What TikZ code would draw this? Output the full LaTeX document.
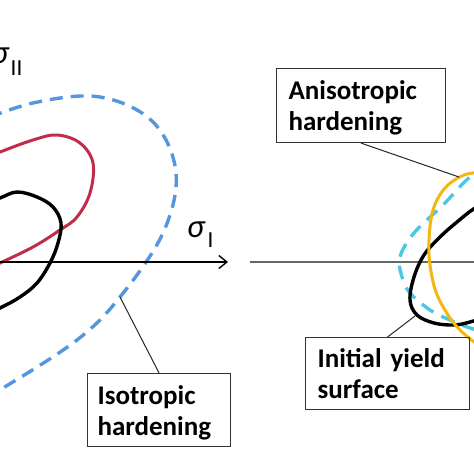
\documentclass[tikz,border=0pt]{standalone}
\usepackage{fontspec}
\setmainfont{Carlito}
\usetikzlibrary{arrows.meta}
\definecolor{redc}{RGB}{192,45,75}
\definecolor{bluec}{RGB}{85,150,225}
\definecolor{cyanc}{RGB}{75,200,230}
\definecolor{orangec}{RGB}{245,182,15}
\newcommand{\sigmaglyph}{{\fontsize{33}{33}\selectfont\itshape σ}}
\begin{document}
\begin{tikzpicture}[x=1pt,y=-1pt,
  labelbox/.style={draw=black!80, line width=1.1pt, rectangle, align=left,
    inner ysep=0pt, font=\fontsize{27}{31}\selectfont\bfseries, anchor=north west},
  leader/.style={line width=1pt, black!85},
  curveblack/.style={line width=3.4pt, black},
  curvered/.style={line width=3pt, redc},
  curveblue/.style={line width=3.4pt, bluec, dash pattern=on 13pt off 8pt},
  curvecyan/.style={line width=3.4pt, cyanc, dash pattern=on 14pt off 9pt},
  curveorange/.style={line width=3pt, orangec},
  symlabel/.style={inner sep=0pt, anchor=base west}]
\useasboundingbox (0,0) rectangle (474,474);
\begin{scope}
\clip (0,0) rectangle (474,474);
% left panel
\draw[curveblue] plot[smooth, tension=0.6] coordinates {(-30,125) (33,103) (100,97) (153,122) (176,173) (163,233) (120,297) (77,340) (3,388) (-30,405)};
\draw[curvered] plot[smooth, tension=0.6] coordinates {(-20,160) (0,152) (33,140) (57,135) (80,143) (93,163) (90,193) (77,217) (60,230) (33,247) (0,263) (-20,272)};
\draw[curveblack] plot[smooth, tension=0.6] coordinates {(-20,205) (0,198) (17,192) (37,197) (53,207) (61,223) (58,243) (50,263) (37,283) (20,297) (0,308) (-20,317)};
\coordinate (axL) at (-5,262);
\coordinate (axLend) at (228,262);
\draw[line width=1.4pt, -{Straight Barb[length=8pt,width=13pt]}] (axL) -- (axLend);
% right panel
\coordinate (axR) at (250,262);
\coordinate (axRend) at (480,262);
\draw[line width=1.8pt, black!60] (axR) -- (axRend);
\draw[curvecyan] plot[smooth, tension=0.6] coordinates {(490,168) (470,177) (443,205) (414,233) (400,257) (402,277) (410,293) (430,310) (450,320) (470,328) (490,333)};
\draw[curveblack] plot[smooth, tension=0.6] coordinates {(495,198) (475,208) (457,222) (440,237) (424,255) (414,277) (410,300) (417,315) (434,323) (454,325) (470,322) (492,315)};
\draw[curveorange] plot[smooth, tension=0.6] coordinates {(485,172) (464,175) (445,188) (433,210) (429,240) (430,265) (436,292) (448,315) (462,332) (482,348)};
% sigma II label (cut by the left edge, as in the original)
\node[symlabel] (sII) at (-9,63) {\sigmaglyph\kern2pt\raisebox{-12pt}{\fontsize{23}{23}\selectfont II}};
\end{scope}
% labels
\node[symlabel] (sI) at (187,237) {\sigmaglyph\kern3pt\raisebox{-10pt}{\fontsize{23}{23}\selectfont I}};
% boxes
\node[labelbox, inner xsep=10pt, text width=123pt, minimum height=73pt] (iso) at (87,373) {\rule{0pt}{24pt}Isotropic\\hardening};
\node[labelbox, inner xsep=12pt, text width=145pt, minimum height=74pt] (aniso) at (276,68) {\rule{0pt}{24pt}Anisotropic\\hardening};
\node[labelbox, inner xsep=12pt, text width=140pt, minimum height=72pt] (init) at (305,337) {Initial yield\\surface};
% leaders
\coordinate (pIso) at (120,297);
\coordinate (pAniso) at (459,177);
\coordinate (pInit) at (415,316);
\draw[leader] (iso.north) -- (pIso);
\draw[leader] (aniso.south) -- (pAniso);
\draw[leader] (init.north) -- (pInit);
\end{tikzpicture}
\end{document}
